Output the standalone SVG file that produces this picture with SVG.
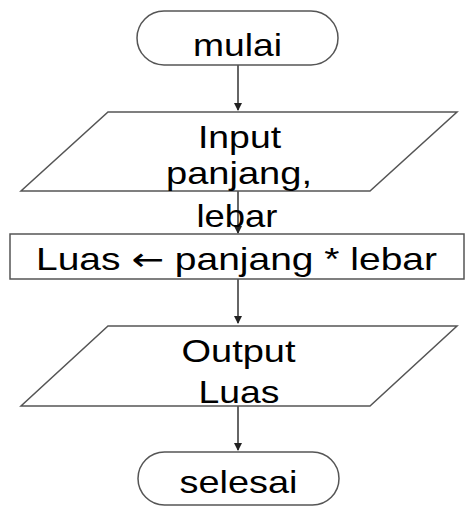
<svg xmlns="http://www.w3.org/2000/svg" width="474" height="509" viewBox="0 0 474 509">
<style>
.shape{fill:#fff;stroke:#555;stroke-width:1.5}
.t{font-family:"Liberation Sans",Arial,sans-serif;font-size:31.5px;fill:#000;text-anchor:middle}
.ar{font-family:"DejaVu Sans",sans-serif}
.c{stroke:#333;stroke-width:1.5;fill:none;marker-end:url(#ah)}
</style>
<defs>
<marker id="ah" markerWidth="8" markerHeight="8" refX="7" refY="4" orient="auto" markerUnits="userSpaceOnUse">
<path d="M0,0 L8,4 L0,8 Z" fill="#222"/>
</marker>
</defs>
<rect width="474" height="509" fill="#fff"/>
<g id="connectors">
<line class="c" x1="238" y1="65" x2="238" y2="110"/>
<line class="c" x1="238" y1="191" x2="238" y2="233"/>
<line class="c" x1="238" y1="279" x2="238" y2="323"/>
<line class="c" x1="238" y1="406" x2="238" y2="450"/>
</g>
<g id="mulai">
<rect class="shape" x="137" y="11" width="201" height="54" rx="27" ry="27"/>
<text class="t" x="237.5" y="56" textLength="89" lengthAdjust="spacingAndGlyphs">mulai</text>
</g>
<g id="input">
<polygon class="shape" points="108,112 457,112 370,191 21,191"/>
<text class="t" x="239.5" y="148" textLength="83" lengthAdjust="spacingAndGlyphs">Input</text>
<text class="t" x="239" y="184" textLength="146" lengthAdjust="spacingAndGlyphs">panjang,</text>
<text class="t" x="237" y="227" textLength="81" lengthAdjust="spacingAndGlyphs">lebar</text>
</g>
<g id="proses">
<rect class="shape" x="10" y="234" width="454" height="45"/>
<text class="t" x="236.5" y="270" textLength="401" lengthAdjust="spacingAndGlyphs">Luas <tspan class="ar">←</tspan> panjang * lebar</text>
</g>
<g id="output">
<polygon class="shape" points="108,326 457,326 370,406 21,406"/>
<text class="t" x="238.5" y="362" textLength="114" lengthAdjust="spacingAndGlyphs">Output</text>
<text class="t" x="239" y="403" textLength="81" lengthAdjust="spacingAndGlyphs">Luas</text>
</g>
<g id="selesai">
<rect class="shape" x="138" y="452" width="201" height="53" rx="26.5" ry="26.5"/>
<text class="t" x="238.5" y="493" textLength="118" lengthAdjust="spacingAndGlyphs">selesai</text>
</g>
</svg>
